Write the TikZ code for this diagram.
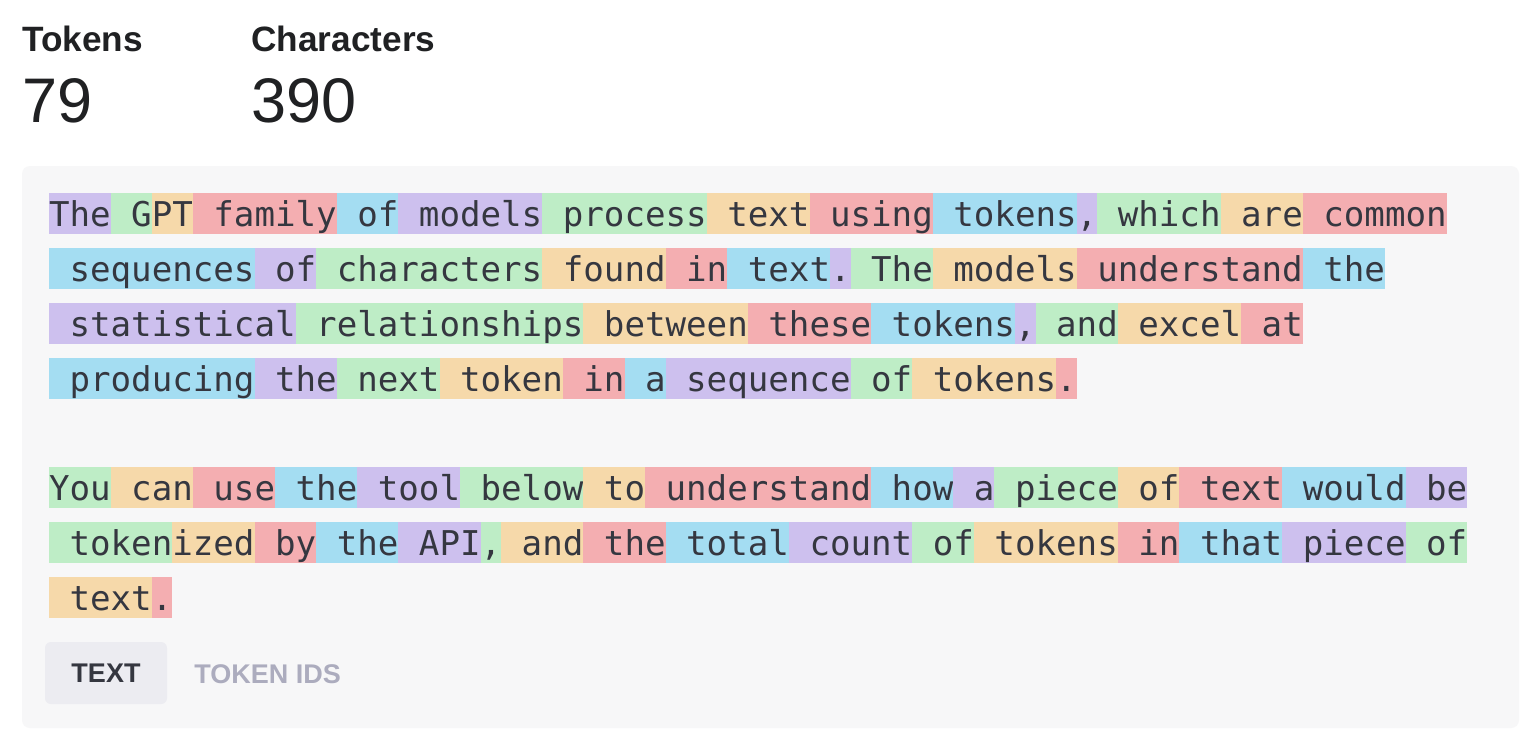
\documentclass[tikz,border=0pt]{standalone}
\usepackage[x11names, svgnames, rgb]{xcolor}
\usepackage{fontspec}
\setmainfont{Liberation Sans}
\newfontfamily\tokfont{DejaVu Sans Mono}
\usepackage{tikz}
\usetikzlibrary{positioning}
\definecolor{tok0}{RGB}{205,192,238}
\definecolor{tok1}{RGB}{190,237,198}
\definecolor{tok2}{RGB}{246,217,170}
\definecolor{tok3}{RGB}{244,174,177}
\definecolor{tok4}{RGB}{164,221,242}
\definecolor{panelgray}{RGB}{247,247,248}
\definecolor{tabgray}{RGB}{236,236,241}
\definecolor{inkdark}{RGB}{53,55,64}
\definecolor{inkblack}{RGB}{32,33,35}
\definecolor{inklight}{RGB}{172,172,190}

% one line of tokens: top y, index of first token, tokens
\newcommand{\tokrow}[3]{%
  \foreach \w [count=\k from #2] in {#3} {
    \pgfmathtruncatemacro{\c}{mod(\k,5)}
    \pgfmathtruncatemacro{\p}{\k-1}
    \ifnum\k=#2
      \node[tok, fill=tok\c, anchor=north west] (t\k) at (49,#1) {\w};
    \else
      \node[tok, fill=tok\c, right=0pt of t\p] (t\k) {\w};
    \fi
  }}

\begin{document}
\begin{tikzpicture}[x=0.5pt, y=-0.5pt,
    tok/.style={inner sep=0pt, outer sep=0pt, text height=16.75pt, text depth=3.75pt,
        font=\tokfont\fontsize{17.07}{20}\selectfont, text=inkdark},
    label/.style={inner sep=0pt, anchor=base west, text=inkblack, font=\bfseries\fontsize{17.6}{20}\selectfont},
    count/.style={inner sep=0pt, anchor=base west, text=inkblack, font=\fontsize{31.5}{36}\selectfont},
    tab/.style={inner sep=0pt, font=\bfseries\fontsize{13.5}{16}\selectfont}]
  \useasboundingbox (0,0) rectangle (1536,752);
  \fill[white] (0,0) rectangle (1536,752);
  \node[label] (tokLabel) at (22,51) {Tokens};
  \node[label] (charLabel) at (251,51) {Characters};
  \node[count] (tokCount) at (22,122) {79};
  \node[count] (charCount) at (251,122) {390};
  \fill[panelgray, rounded corners=4pt] (22,166) rectangle (1519,728);

  \tokrow{193}{0}{The,\ G,PT,\ family,\ of,\ models,\ process,\ text,\ using,\ tokens,{,},\ which,\ are,\ common}
  \tokrow{248}{14}{\ sequences,\ of,\ characters,\ found,\ in,\ text,.,\ The,\ models,\ understand,\ the}
  \tokrow{303}{25}{\ statistical,\ relationships,\ between,\ these,\ tokens,{,},\ and,\ excel,\ at}
  \tokrow{358}{34}{\ producing,\ the,\ next,\ token,\ in,\ a,\ sequence,\ of,\ tokens,.}
  \tokrow{467}{46}{You,\ can,\ use,\ the,\ tool,\ below,\ to,\ understand,\ how,\ a,\ piece,\ of,\ text,\ would,\ be}
  \tokrow{522}{61}{\ token,ized,\ by,\ the,\ API,{,},\ and,\ the,\ total,\ count,\ of,\ tokens,\ in,\ that,\ piece,\ of}
  \tokrow{577}{77}{\ text,.}

  \node[tab, fill=tabgray, rounded corners=3pt, minimum width=61pt, minimum height=31pt,
      text=inkdark] (textTab) at (106,673) {TEXT};
  \node[tab, anchor=base west, text=inklight] (idsTab) at (194,683) {TOKEN IDS};
\end{tikzpicture}
\end{document}
